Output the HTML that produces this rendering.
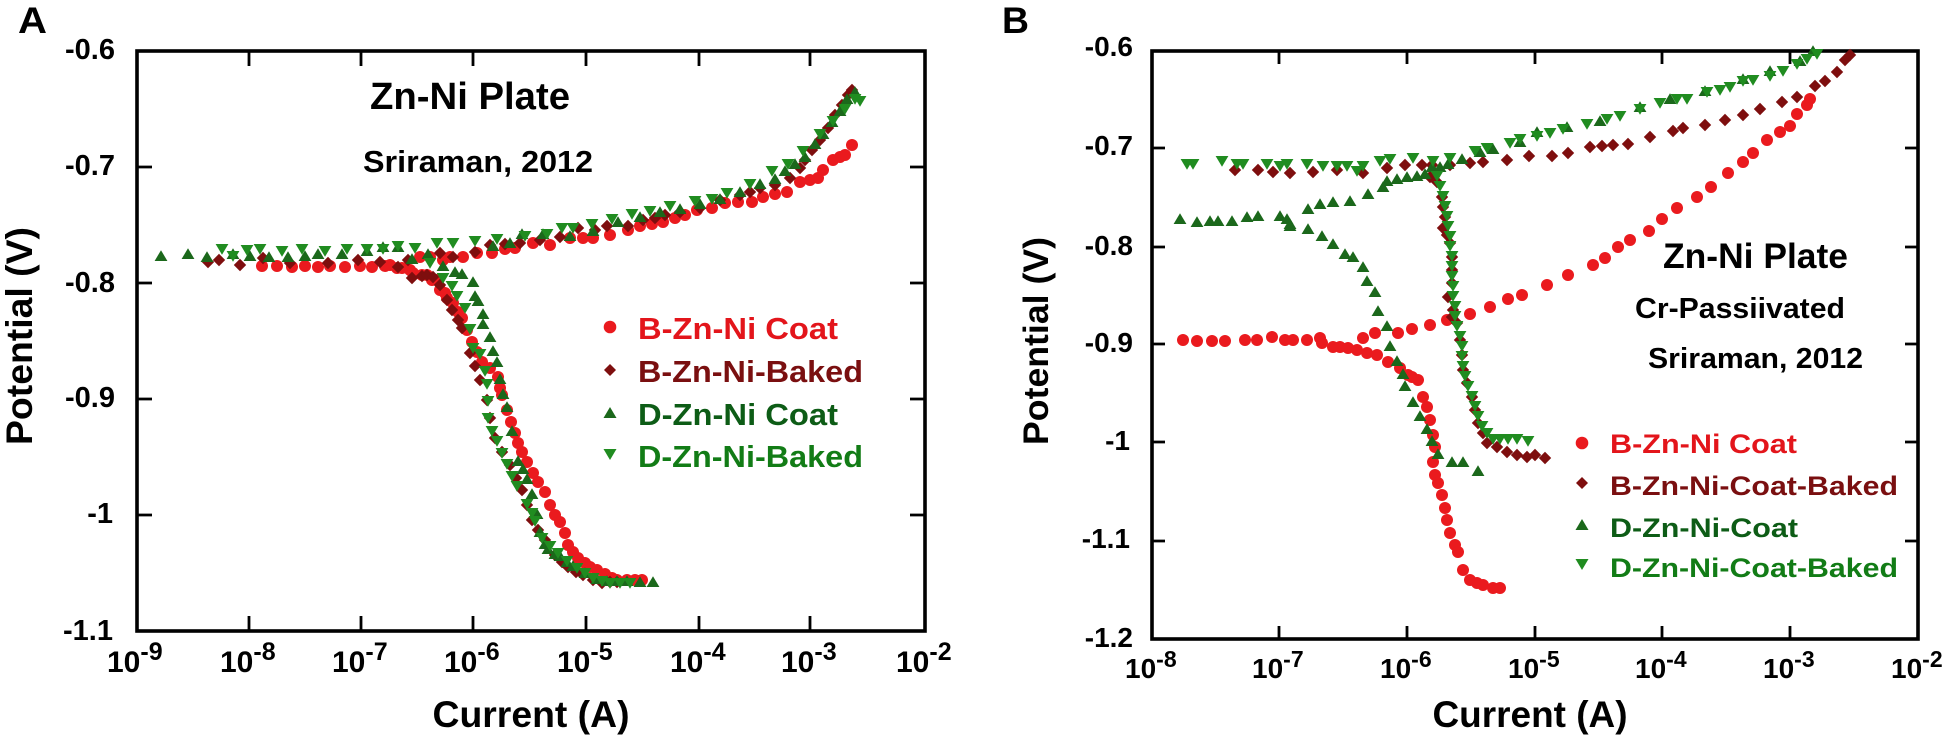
<!DOCTYPE html>
<html><head><meta charset="utf-8"><style>
html,body{margin:0;padding:0;background:#fff;}
svg{display:block;}
text{font-family:"Liberation Sans",Arial,sans-serif;font-weight:bold;}
</style></head><body>
<svg width="1950" height="740" viewBox="0 0 1950 740" xmlns="http://www.w3.org/2000/svg">
<defs>
<marker id="c" markerUnits="userSpaceOnUse" markerWidth="16" markerHeight="16" refX="8" refY="8" overflow="visible"><circle cx="8" cy="8" r="6" fill="#ea1a1e"/></marker>
<marker id="d" markerUnits="userSpaceOnUse" markerWidth="16" markerHeight="16" refX="8" refY="8" overflow="visible"><path d="M8,1.8 L14.2,8 L8,14.2 L1.8,8Z" fill="#7e0e0e"/></marker>
<marker id="u" markerUnits="userSpaceOnUse" markerWidth="16" markerHeight="16" refX="8" refY="9" overflow="visible"><path d="M8,2.2 L14.4,13 L1.6,13Z" fill="#1b681b"/></marker>
<marker id="v" markerUnits="userSpaceOnUse" markerWidth="16" markerHeight="16" refX="8" refY="7" overflow="visible"><path d="M1.6,3 L14.4,3 L8,13.8Z" fill="#208c20"/></marker>
</defs>

<!-- ================= PANEL A ================= -->
<text x="18" y="33" font-size="37" textLength="29" lengthAdjust="spacingAndGlyphs">A</text>
<rect x="137" y="51" width="788" height="580" fill="none" stroke="#000" stroke-width="3.6"/>
<g stroke="#000" stroke-width="2.8">
<path d="M249,51v15M361,51v15M473,51v15M586,51v15M699,51v15M810,51v15"/>
<path d="M249,631v-15M361,631v-15M473,631v-15M586,631v-15M699,631v-15M810,631v-15"/>
<path d="M137,167h15M137,283h15M137,399h15M137,515h15"/>
<path d="M925,167h-15M925,283h-15M925,399h-15M925,515h-15"/>
</g>
<g font-size="29" text-anchor="end">
<text x="115" y="59">-0.6</text>
<text x="115" y="175">-0.7</text>
<text x="115" y="292">-0.8</text>
<text x="115" y="407">-0.9</text>
<text x="113" y="523">-1</text>
<text x="113" y="640">-1.1</text>
</g>
<g font-size="30">
<text x="107" y="672">10<tspan dy="-12" font-size="25">-9</tspan></text>
<text x="220" y="672">10<tspan dy="-12" font-size="25">-8</tspan></text>
<text x="332" y="672">10<tspan dy="-12" font-size="25">-7</tspan></text>
<text x="444" y="672">10<tspan dy="-12" font-size="25">-6</tspan></text>
<text x="557" y="672">10<tspan dy="-12" font-size="25">-5</tspan></text>
<text x="670" y="672">10<tspan dy="-12" font-size="25">-4</tspan></text>
<text x="781" y="672">10<tspan dy="-12" font-size="25">-3</tspan></text>
<text x="896" y="672">10<tspan dy="-12" font-size="25">-2</tspan></text>
</g>
<text x="531" y="727" font-size="37" text-anchor="middle" textLength="197" lengthAdjust="spacingAndGlyphs">Current (A)</text>
<text transform="translate(32,336) rotate(-90)" font-size="37" text-anchor="middle" textLength="218" lengthAdjust="spacingAndGlyphs">Potential (V)</text>
<text x="370" y="109" font-size="38" textLength="200" lengthAdjust="spacingAndGlyphs">Zn-Ni Plate</text>
<text x="363" y="172" font-size="31" textLength="230" lengthAdjust="spacingAndGlyphs">Sriraman, 2012</text>

<!-- legend A -->
<circle cx="610" cy="327" r="6.3" fill="#ea1a1e"/>
<path d="M610,364 L616,370 L610,376 L604,370Z" fill="#7e0e0e"/>
<path d="M610,407 L616.5,418 L603.5,418Z" fill="#1b681b"/>
<path d="M603.5,449 L616.5,449 L610,460Z" fill="#208c20"/>
<text x="638" y="339" font-size="31" fill="#e3151b" textLength="200" lengthAdjust="spacingAndGlyphs">B-Zn-Ni Coat</text>
<text x="638" y="382" font-size="31" fill="#7a0f10" textLength="225" lengthAdjust="spacingAndGlyphs">B-Zn-Ni-Baked</text>
<text x="638" y="425" font-size="31" fill="#0d5c16" textLength="200" lengthAdjust="spacingAndGlyphs">D-Zn-Ni Coat</text>
<text x="638" y="467" font-size="31" fill="#127c16" textLength="225" lengthAdjust="spacingAndGlyphs">D-Zn-Ni-Baked</text>

<!-- data A -->
<polyline fill="none" stroke="none" marker-start="url(#c)" marker-mid="url(#c)" marker-end="url(#c)" points="262,266 277,266 292,267 305,266 318,267 330,266 345,267 360,266 372,267 385,266 390,265 397,268 402,268 410,270 413,273 422,275 427,275 432,280 437,280 440,290 445,293 447,298 453,303 458,312 462,318 467,330 472,342 477,352 482,362 490,368 498,377 500,388 502,395 507,410 511,422 515,433 518,443 522,452 527,462 533,473 538,482 545,492 550,505 555,515 560,522 565,533 568,545 573,552 578,558 585,563 590,567 597,570 605,574 612,578 617,580 627,580 635,580 642,580 420,257 430,257 443,260 450,257 463,257 477,253 492,253 505,249 515,248 533,243 550,245 570,238 583,238 593,238 610,235 628,230 640,226 652,224 663,222 675,218 685,215 697,210 712,208 725,203 738,202 752,202 763,197 775,194 787,192 800,182 810,180 818,178 823,170 833,160 840,157 845,155 852,145"/>
<polyline fill="none" stroke="none" marker-start="url(#d)" marker-mid="url(#d)" marker-end="url(#d)" points="208,262 219,260 240,265 263,258 290,263 328,263 358,260 380,262 398,267 412,278 422,276 427,275 433,277 440,285 447,300 452,310 458,320 462,328 470,353 475,366 480,380 487,400 490,418 495,438 502,452 510,465 516,478 522,490 527,505 532,520 538,530 545,540 555,555 562,562 568,567 576,572 583,575 593,580 602,583 610,582 617,582 408,260 440,253 453,257 475,252 490,245 505,244 520,243 540,240 560,237 578,228 595,230 607,226 628,226 643,220 655,218 665,215 680,212 700,208 720,200 740,195 750,192 760,188 775,185 790,178 800,168 805,160 812,150 820,140 828,128 835,115 842,105 848,95 852,90"/>
<polyline fill="none" stroke="none" marker-start="url(#u)" marker-mid="url(#u)" marker-end="url(#u)" points="161,257 188,255 207,258 233,255 250,257 269,258 288,258 305,257 318,255 342,255 367,252 383,248 398,248 412,260 428,255 443,267 455,273 462,275 473,283 475,297 478,302 483,315 483,325 490,338 493,352 497,363 500,380 503,395 507,408 512,432 518,462 523,470 527,480 532,495 537,515 540,533 545,545 548,550 555,555 560,557 567,563 573,567 585,574 597,580 607,582 617,582 627,582 640,583 653,583 493,247 510,244 522,235 543,235 570,237 593,232 618,223 640,218 660,213 680,210 700,205 720,200 740,193 760,185 775,180 785,172 795,165 805,158 815,145 823,135 832,123 840,112 847,100 855,93"/>
<polyline fill="none" stroke="none" marker-start="url(#v)" marker-mid="url(#v)" marker-end="url(#v)" points="222,248 233,255 247,249 260,248 282,250 302,248 325,250 347,248 367,248 383,248 398,245 415,247 437,242 453,242 475,240 497,238 525,235 547,233 562,227 573,227 592,223 612,218 632,213 650,210 670,205 695,200 712,198 727,192 750,183 772,170 788,163 803,150 820,133 833,120 845,108 855,98 860,100 430,262 443,277 452,285 457,295 465,307 470,328 473,347 480,353 485,370 487,383 488,400 488,417 492,430 497,440 502,452 507,463 512,475 517,485 527,503 532,512 535,520 542,537 550,545 558,552 567,560 577,567 585,572 593,577 602,580 610,582 620,582 630,582"/>

<!-- ================= PANEL B ================= -->
<text x="1002" y="33" font-size="37" textLength="27" lengthAdjust="spacingAndGlyphs">B</text>
<rect x="1152" y="51" width="766" height="588" fill="none" stroke="#000" stroke-width="3.6"/>
<g stroke="#000" stroke-width="2.8">
<path d="M1279,51v13M1407,51v13M1535,51v13M1662,51v13M1790,51v13"/>
<path d="M1279,639v-13M1407,639v-13M1535,639v-13M1662,639v-13M1790,639v-13"/>
<path d="M1152,148h13M1152,247h13M1152,344h13M1152,442h13M1152,541h13"/>
<path d="M1918,148h-13M1918,247h-13M1918,344h-13M1918,442h-13M1918,541h-13"/>
</g>
<g font-size="28" text-anchor="end">
<text x="1133" y="56">-0.6</text>
<text x="1133" y="155">-0.7</text>
<text x="1133" y="255">-0.8</text>
<text x="1133" y="352">-0.9</text>
<text x="1130" y="450">-1</text>
<text x="1130" y="548">-1.1</text>
<text x="1133" y="647">-1.2</text>
</g>
<g font-size="28">
<text x="1125" y="678">10<tspan dy="-11" font-size="23">-8</tspan></text>
<text x="1252" y="678">10<tspan dy="-11" font-size="23">-7</tspan></text>
<text x="1380" y="678">10<tspan dy="-11" font-size="23">-6</tspan></text>
<text x="1508" y="678">10<tspan dy="-11" font-size="23">-5</tspan></text>
<text x="1635" y="678">10<tspan dy="-11" font-size="23">-4</tspan></text>
<text x="1763" y="678">10<tspan dy="-11" font-size="23">-3</tspan></text>
<text x="1891" y="678">10<tspan dy="-11" font-size="23">-2</tspan></text>
</g>
<text x="1530" y="727" font-size="37" text-anchor="middle" textLength="195" lengthAdjust="spacingAndGlyphs">Current (A)</text>
<text transform="translate(1048,341) rotate(-90)" font-size="35" text-anchor="middle" textLength="208" lengthAdjust="spacingAndGlyphs">Potential (V)</text>
<text x="1663" y="268" font-size="35" textLength="185" lengthAdjust="spacingAndGlyphs">Zn-Ni Plate</text>
<text x="1635" y="318" font-size="29" textLength="210" lengthAdjust="spacingAndGlyphs">Cr-Passiivated</text>
<text x="1648" y="368" font-size="29" textLength="215" lengthAdjust="spacingAndGlyphs">Sriraman, 2012</text>

<!-- legend B -->
<circle cx="1582" cy="443" r="6.3" fill="#ea1a1e"/>
<path d="M1582,477 L1588,483 L1582,489 L1576,483Z" fill="#7e0e0e"/>
<path d="M1582,519 L1588.5,530 L1575.5,530Z" fill="#1b681b"/>
<path d="M1575.5,559 L1588.5,559 L1582,570Z" fill="#208c20"/>
<text x="1610" y="453" font-size="27" fill="#e3151b" textLength="187" lengthAdjust="spacingAndGlyphs">B-Zn-Ni Coat</text>
<text x="1610" y="495" font-size="27" fill="#7a0f10" textLength="288" lengthAdjust="spacingAndGlyphs">B-Zn-Ni-Coat-Baked</text>
<text x="1610" y="537" font-size="27" fill="#0d5c16" textLength="188" lengthAdjust="spacingAndGlyphs">D-Zn-Ni-Coat</text>
<text x="1610" y="577" font-size="27" fill="#127c16" textLength="288" lengthAdjust="spacingAndGlyphs">D-Zn-Ni-Coat-Baked</text>

<!-- data B -->
<polyline fill="none" stroke="none" marker-start="url(#c)" marker-mid="url(#c)" marker-end="url(#c)" points="1183,340 1197,341 1212,341 1225,341 1245,340 1257,340 1272,337 1285,340 1293,340 1307,340 1320,338 1322,343 1333,347 1340,347 1348,348 1357,350 1367,353 1377,355 1388,362 1400,368 1408,375 1412,377 1418,380 1423,397 1427,407 1430,420 1433,435 1435,447 1433,462 1435,475 1438,483 1442,495 1445,508 1447,520 1450,533 1455,545 1458,552 1463,570 1470,580 1477,583 1483,585 1493,588 1500,588 1363,338 1375,333 1398,333 1412,329 1430,325 1447,320 1470,314 1490,307 1508,299 1522,295 1547,285 1568,275 1593,265 1605,258 1618,247 1630,240 1649,231 1662,219 1677,208 1697,197 1711,187 1728,173 1743,162 1753,153 1767,140 1780,132 1790,126 1797,114 1807,105 1810,99"/>
<polyline fill="none" stroke="none" marker-start="url(#d)" marker-mid="url(#d)" marker-end="url(#d)" points="1235,170 1258,170 1273,172 1290,173 1313,172 1337,170 1363,173 1387,168 1405,165 1422,165 1432,165 1450,165 1470,163 1483,162 1507,160 1529,156 1552,156 1568,153 1590,147 1602,146 1613,145 1628,144 1650,137 1673,131 1683,128 1705,125 1725,120 1743,115 1760,109 1782,102 1797,97 1815,86 1825,81 1837,72 1845,60 1850,55 1430,177 1437,182 1442,197 1443,207 1445,217 1443,228 1447,235 1450,243 1452,257 1452,270 1452,283 1448,297 1453,310 1452,317 1457,323 1460,340 1462,355 1463,370 1467,383 1472,397 1475,410 1478,423 1483,433 1487,443 1497,447 1507,452 1517,455 1527,457 1535,455 1545,458"/>
<polyline fill="none" stroke="none" marker-start="url(#u)" marker-mid="url(#u)" marker-end="url(#u)" points="1180,220 1197,223 1210,222 1218,222 1232,222 1247,218 1258,217 1280,217 1287,220 1290,227 1308,210 1320,205 1333,203 1350,202 1368,195 1383,188 1387,182 1397,180 1407,178 1417,177 1425,175 1432,168 1440,168 1448,165 1462,160 1480,153 1493,150 1520,143 1537,133 1567,128 1600,122 1640,108 1670,100 1705,92 1743,80 1770,72 1800,62 1813,52 1290,225 1308,230 1322,237 1333,245 1345,255 1353,258 1363,268 1367,282 1375,293 1378,312 1387,327 1390,347 1397,362 1403,375 1405,387 1413,403 1420,417 1427,430 1432,442 1438,455 1452,463 1463,463 1478,472"/>
<polyline fill="none" stroke="none" marker-start="url(#v)" marker-mid="url(#v)" marker-end="url(#v)" points="1187,163 1193,163 1222,160 1237,163 1243,163 1267,163 1280,165 1287,163 1307,163 1323,165 1337,165 1347,165 1357,170 1363,165 1380,160 1390,158 1413,157 1433,160 1450,157 1475,150 1487,147 1510,142 1520,138 1537,135 1550,132 1563,128 1587,123 1607,118 1620,115 1640,108 1660,102 1677,98 1687,98 1707,91 1720,89 1730,86 1743,80 1753,79 1770,75 1783,70 1797,63 1807,58 1817,53 1437,175 1440,185 1443,195 1445,205 1447,215 1448,225 1450,235 1450,245 1452,255 1452,265 1452,275 1453,285 1453,295 1455,305 1455,315 1457,325 1460,335 1462,345 1462,355 1463,365 1465,375 1468,385 1472,395 1475,405 1478,415 1482,425 1487,432 1493,438 1500,438 1508,438 1517,438 1528,440"/>
</svg>
</body></html>
